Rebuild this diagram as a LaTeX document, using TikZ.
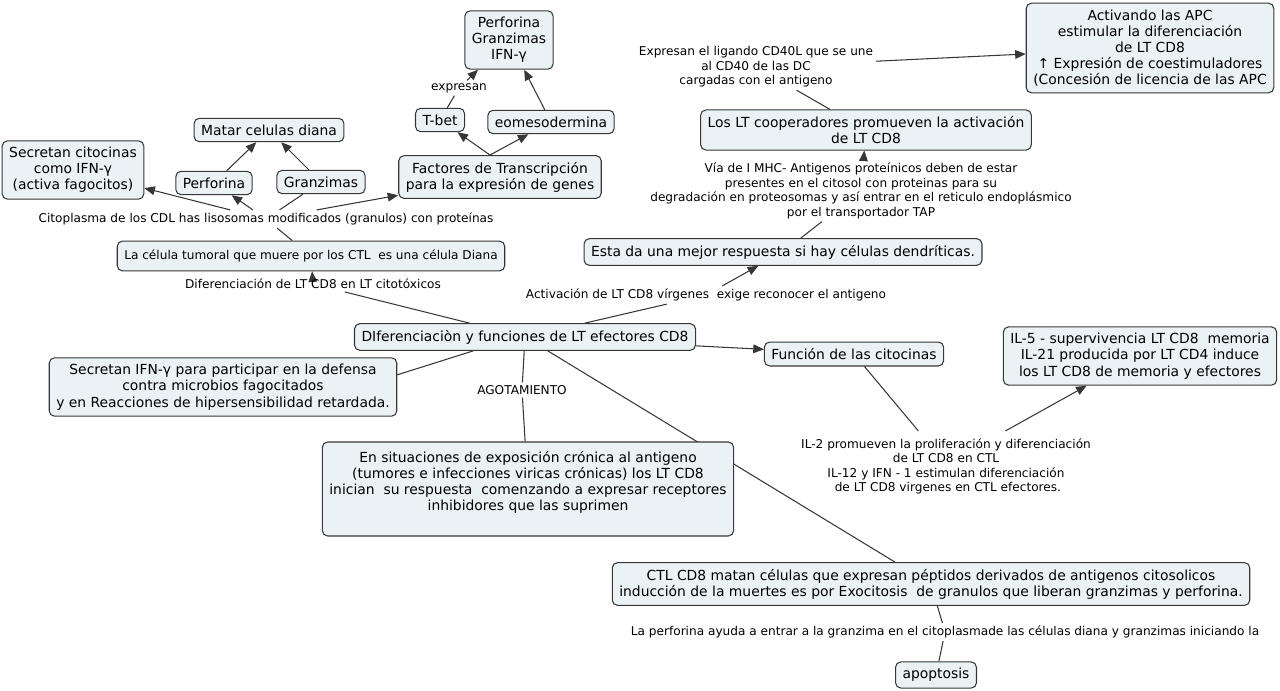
\documentclass[tikz,border=0pt]{standalone}
\usepackage{fontspec}
\setmainfont{DejaVu Sans}
\usetikzlibrary{arrows.meta,backgrounds}

\definecolor{mapfill}{RGB}{235,242,245}
\definecolor{mapdraw}{RGB}{55,55,55}
\newcommand\mapboxfont{\fontsize{7.9}{9.2}\selectfont}
\newcommand\maplinkfont{\fontsize{6.9}{8.2}\selectfont}

\tikzset{
  mapbox/.style={draw=mapdraw, fill=mapfill, rounded corners=3pt, line width=0.6pt,
    align=center, inner xsep=4pt, inner ysep=3.6pt, font=\mapboxfont},
  maplink/.style={align=center, inner sep=1.5pt, font=\maplinkfont},
  mapedge/.style={draw=mapdraw, line width=0.6pt},
  maparrow/.style={mapedge, -{Triangle[length=6pt,width=5pt]}},
}

\begin{document}
\begin{tikzpicture}[x=0.02cm, y=-0.02cm]
  \useasboundingbox (0,0) rectangle (1280,690);
  % concepts
  \node[mapbox] (pgi) at (509,40) {Perforina\\Granzimas\\IFN-γ};
  \node[mapbox] (apc) at (1150,48) {Activando las APC\\estimular la diferenciación\\de LT CD8\\↑ Expresión de coestimuladores\\(Concesión de licencia de las APC};
  \node[mapbox] (matar) at (269,130) {Matar celulas diana};
  \node[mapbox] (citocinas) at (73,170) {Secretan citocinas\\como IFN-γ\\(activa fagocitos)};
  \node[mapbox] (tbet) at (440,120) {T-bet};
  \node[mapbox] (eomes) at (551,122) {eomesodermina};
  \node[mapbox] (coop) at (866,130) {Los LT cooperadores promueven la activación\\de LT CD8};
  \node[mapbox] (perforina) at (214,183) {Perforina};
  \node[mapbox] (granzimas) at (321,182) {Granzimas};
  \node[mapbox] (factores) at (500,177) {Factores de Transcripción\\para la expresión de genes};
  \node[mapbox, font=\maplinkfont, inner ysep=5pt] (diana) at (311,256) {La célula tumoral que muere por los CTL\ \ es una célula Diana};
  \node[mapbox] (dendri) at (783,252) {Esta da una mejor respuesta si hay células dendríticas.};
  \node[mapbox] (central) at (525,337) {DIferenciaciòn y funciones de LT efectores CD8};
  \node[mapbox] (funcion) at (854,354) {Función de las citocinas};
  \node[mapbox] (memoria) at (1140,356) {IL-5 - supervivencia LT CD8\ \ memoria\\IL-21 producida por LT CD4 induce\\los LT CD8 de memoria y efectores};
  \node[mapbox] (ifn) at (223,387) {Secretan IFN-γ para participar en la defensa\\contra microbios fagocitados\\y en Reacciones de hipersensibilidad retardada.};
  \node[mapbox, minimum height=1.88cm] (cronica) at (528,489) {En situaciones de exposición crónica al antigeno\\(tumores e infecciones viricas crónicas) los LT CD8\\inician\ \ su respuesta\ \ comenzando a expresar receptores\\inhibidores que las suprimen\\ \mbox{}};
  \node[mapbox] (matan) at (931,584) {CTL CD8 matan células que expresan péptidos derivados de antigenos citosolicos\\inducción de la muertes es por Exocitosis\ \ de granulos que liberan granzimas y perforina.};
  \node[mapbox] (apoptosis) at (936,675) {apoptosis};
  % linking phrases
  \node[maplink] (expresan) at (459,88) {expresan};
  \node[maplink] (citoplasma) at (266,219) {Citoplasma de los CDL has lisosomas modificados (granulos) con proteínas};
  \node[maplink] (difer) at (313,284) {Diferenciación de LT CD8 en LT citotóxicos};
  \node[maplink] (activ) at (706,295) {Activación de LT CD8 vírgenes\ \ exige reconocer el antigeno};
  \node[maplink] (mhc) at (861,191) {Vía de I MHC- Antigenos proteínicos deben de estar\\presentes en el citosol con proteinas para su\\degradación en proteosomas y así entrar en el reticulo endoplásmico\\por el transportador TAP};
  \node[maplink] (cd40) at (756,67) {Expresan el ligando CD40L que se une\\al CD40 de las DC\\cargadas con el antigeno};
  \node[maplink] (agot) at (522,390) {AGOTAMIENTO};
  \node[maplink] (il2) at (946,464) {\mbox{}\\IL-2 promueven la proliferación y diferenciación\\de LT CD8 en CTL\\IL-12 y IFN - 1 estimulan diferenciación\\\ de LT CD8 virgenes en CTL efectores.};
  \node[maplink] (granz) at (945,632) {La perforina ayuda a entrar a la granzima en el citoplasmade las células diana y granzimas iniciando la};
  \coordinate (factlink) at (490,155);
  % connectors
  \begin{pgfonlayer}{background}
    \draw[mapedge] (central) -- (difer);
    \draw[maparrow] (difer) -- (diana);
    \draw[mapedge] (diana) -- (citoplasma);
    \draw[maparrow] (citoplasma) -- (citocinas);
    \draw[maparrow] (citoplasma) -- (perforina);
    \draw[mapedge] (citoplasma) -- (granzimas);
    \draw[maparrow] (citoplasma) -- (factores);
    \draw[maparrow] (perforina) -- (matar);
    \draw[maparrow] (granzimas) -- (matar);
    \draw[mapedge] (factores) -- (factlink);
    \draw[maparrow] (factlink) -- (tbet);
    \draw[maparrow] (factlink) -- (eomes);
    \draw[mapedge] (tbet) -- (expresan);
    \draw[maparrow] (expresan) -- (pgi);
    \draw[maparrow] (eomes) -- (pgi);
    \draw[mapedge] (central) -- (activ);
    \draw[maparrow] (activ) -- (dendri);
    \draw[mapedge] (dendri) -- (mhc);
    \draw[maparrow] (mhc) -- (coop);
    \draw[mapedge] (coop) -- (cd40);
    \draw[maparrow] (cd40) -- (apc);
    \draw[mapedge] (central.195) -- (ifn.4);
    \draw[mapedge] (central) -- (agot);
    \draw[mapedge] (agot) -- (cronica);
    \draw[mapedge] (central) -- (matan);
    \draw[maparrow] (central) -- (funcion);
    \draw[mapedge] (funcion) -- (il2);
    \draw[maparrow] (il2) -- (memoria);
    \draw[mapedge] (matan) -- (granz);
    \draw[mapedge] (granz) -- (apoptosis);
  \end{pgfonlayer}
\end{tikzpicture}
\end{document}
